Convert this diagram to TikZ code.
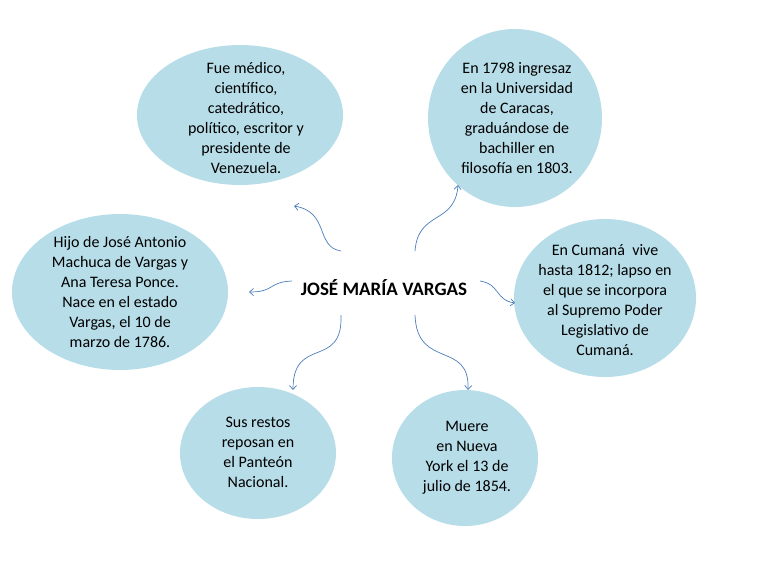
\documentclass[tikz,border=0pt]{standalone}
\usepackage{fontspec}
\setmainfont{Carlito}
\usetikzlibrary{arrows.meta}
\definecolor{bub}{HTML}{B7DDE8}
\definecolor{arr}{HTML}{4A7EBB}
\begin{document}
\begin{tikzpicture}[x=1pt,y=-1pt,
  bubble/.style={fill=bub,draw=none},
  txt/.style={align=center,font=\fontsize{16}{20}\selectfont,text=black},
  conn/.style={draw=arr,line width=0.7pt,-{Straight Barb[length=4pt,width=7pt]}}]
\useasboundingbox (0,0) rectangle (768,576);
\fill[bubble] (240,115) ellipse [x radius=103,y radius=70];
\fill[bubble] (515,118) ellipse [x radius=87,y radius=89];
\fill[bubble] (120,292) ellipse [x radius=108,y radius=78];
\fill[bubble] (605,298) ellipse [x radius=91,y radius=79];
\fill[bubble] (258,453) ellipse [x radius=78,y radius=66];
\fill[bubble] (465,458) ellipse [x radius=73,y radius=68];
\node[txt] (t1) at (246,118) {Fue médico,\\científico,\\catedrático,\\político, escritor y\\presidente de\\Venezuela.};
\node[txt] (t2) at (517,118) {En 1798 ingresaz\\en la Universidad\\de Caracas,\\graduándose de\\bachiller en\\filosofía en 1803.};
\node[txt] (t3) at (120,292) {Hijo de José Antonio\\Machuca de Vargas y\\Ana Teresa Ponce.\\Nace en el estado\\Vargas, el 10 de\\marzo de 1786.};
\node[txt] (t4) at (605,300) {En Cumaná\ \ vive\\hasta 1812; lapso en\\el que se incorpora\\al Supremo Poder\\Legislativo de\\Cumaná.};
\node[txt] (t5) at (258,452) {Sus restos\\reposan en\\el Panteón\\Nacional.};
\node[txt] (t6) at (467,458) {Muere\\en Nueva\\York el 13 de\\julio de 1854.};
\node[font=\fontsize{19}{22}\selectfont\bfseries] (c) at (384,288) {JOSÉ MARÍA VARGAS};
\coordinate (s1) at (341,251); \coordinate (e1) at (294,206);
\coordinate (s2) at (415,251); \coordinate (e2) at (458,185);
\coordinate (s3) at (292,281); \coordinate (e3) at (249,292);
\coordinate (s4) at (480,281); \coordinate (e4) at (515,303);
\coordinate (s5) at (341,315); \coordinate (e5) at (293,390);
\coordinate (s6) at (415,315); \coordinate (e6) at (468,390);
\draw[conn] (s1) .. controls (315,247) and (330,212) .. (e1);
\draw[conn] (s2) .. controls (418,210) and (455,225) .. (e2);
\draw[conn] (s3) .. controls (268,282) and (275,292) .. (e3);
\draw[conn] (s4) .. controls (500,284) and (495,300) .. (e4);
\draw[conn] (s5) .. controls (343,370) and (293,335) .. (e5);
\draw[conn] (s6) .. controls (417,370) and (470,340) .. (e6);
\end{tikzpicture}
\end{document}
